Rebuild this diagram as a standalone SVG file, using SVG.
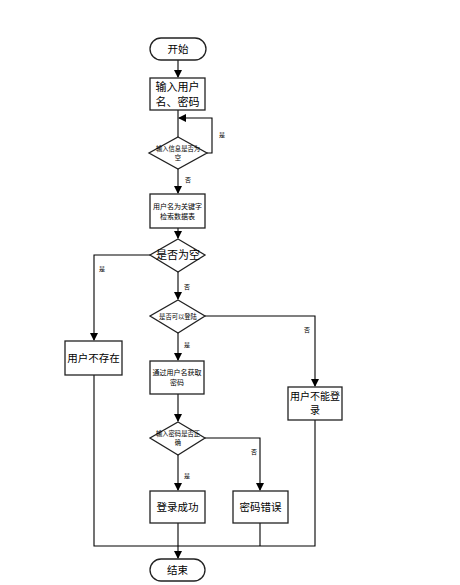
<svg xmlns="http://www.w3.org/2000/svg" width="460" height="585" viewBox="0 0 460 585">
<defs>
<marker id="ah" markerWidth="8" markerHeight="8" refX="7" refY="4" orient="auto" markerUnits="userSpaceOnUse">
<path d="M0,0 L8,4 L0,8 Z" fill="#000"/>
</marker>
<style>
.n{fill:#fff;stroke:#222;stroke-width:1.3}
.c{fill:none;stroke:#000;stroke-width:1.1}
.t{font-family:"Noto Sans CJK SC","Liberation Sans",sans-serif;fill:#000;text-anchor:middle}
.l{font-size:10.5px}
.s{font-size:7px}
.x{font-size:6px;font-family:"Noto Sans CJK SC",sans-serif;fill:#000}
</style>
</defs>
<rect width="460" height="585" fill="#fff"/>
<g id="connectors">
<path class="c" d="M178,60 V77" marker-end="url(#ah)"/>
<path class="c" d="M178,110 V137"/>
<path class="c" d="M207,153 H212 V118 H179" marker-end="url(#ah)"/>
<path class="c" d="M178,169 V193" marker-end="url(#ah)"/>
<path class="c" d="M178,228 V238" marker-end="url(#ah)"/>
<path class="c" d="M150,255 H94 V340" marker-end="url(#ah)"/>
<path class="c" d="M178,272 V299" marker-end="url(#ah)"/>
<path class="c" d="M205,316 H315 V386" marker-end="url(#ah)"/>
<path class="c" d="M178,333 V360" marker-end="url(#ah)"/>
<path class="c" d="M178,394 V421" marker-end="url(#ah)"/>
<path class="c" d="M205,438 H260 V490" marker-end="url(#ah)"/>
<path class="c" d="M178,455 V490" marker-end="url(#ah)"/>
<path class="c" d="M94,375 V546 H315 V420"/>
<path class="c" d="M260,523 V546"/>
<path class="c" d="M178,523 V558" marker-end="url(#ah)"/>
<text class="x" x="219" y="137">是</text>
<text class="x" x="185" y="182">否</text>
<text class="x" x="99" y="271">是</text>
<text class="x" x="184" y="289">否</text>
<text class="x" x="304" y="332">否</text>
<text class="x" x="184" y="347">是</text>
<text class="x" x="251" y="454">否</text>
<text class="x" x="184" y="478">是</text>
</g>
<g id="start">
<rect class="n" x="150" y="38" width="56" height="22" rx="11"/>
<text class="t l" x="178" y="53">开始</text>
</g>
<g id="input">
<rect class="n" x="150" y="78" width="55" height="32"/>
<text class="t" font-size="11" x="177.5" y="91">输入用户</text>
<text class="t" font-size="11" x="177.5" y="106">名、密码</text>
</g>
<g id="d1">
<path class="n" d="M178,137 L207,153 L178,169 L149,153 Z"/>
<text class="t" font-size="6.3" x="178" y="151">输入信息是否为</text>
<text class="t" font-size="6.3" x="178" y="160">空</text>
</g>
<g id="query">
<rect class="n" x="150" y="194" width="55" height="34"/>
<text class="t s" x="177.5" y="209">用户名为关键字</text>
<text class="t s" x="177.5" y="219">检索数据表</text>
</g>
<g id="d2">
<path class="n" d="M178,239 L205,255 L178,272 L150,255 Z"/>
<text class="t" font-size="11" x="178" y="259">是否为空</text>
</g>
<g id="nouser">
<rect class="n" x="65" y="341" width="57" height="34"/>
<text class="t l" x="93.5" y="362">用户不存在</text>
</g>
<g id="d3">
<path class="n" d="M178,300 L205,316 L178,333 L150,316 Z"/>
<text class="t" font-size="6.3" x="178" y="319">是否可以登陆</text>
</g>
<g id="cannot">
<rect class="n" x="288" y="387" width="54" height="33"/>
<text class="t" font-size="10" x="315" y="400">用户不能登</text>
<text class="t" font-size="10" x="315" y="414">录</text>
</g>
<g id="getpwd">
<rect class="n" x="150" y="361" width="54" height="33"/>
<text class="t s" x="177" y="375">通过用户名获取</text>
<text class="t s" x="177" y="385">密码</text>
</g>
<g id="d4">
<path class="n" d="M178,422 L205,438 L178,455 L150,438 Z"/>
<text class="t" font-size="6.3" x="178" y="436">输入密码是否正</text>
<text class="t" font-size="6.3" x="178" y="445">确</text>
</g>
<g id="success">
<rect class="n" x="150" y="491" width="55" height="32"/>
<text class="t l" x="177.5" y="511">登录成功</text>
</g>
<g id="wrong">
<rect class="n" x="233" y="491" width="55" height="32"/>
<text class="t l" x="260.5" y="511">密码错误</text>
</g>
<g id="end">
<rect class="n" x="150" y="559" width="55" height="22" rx="11"/>
<text class="t l" x="177.5" y="574">结束</text>
</g>
</svg>
